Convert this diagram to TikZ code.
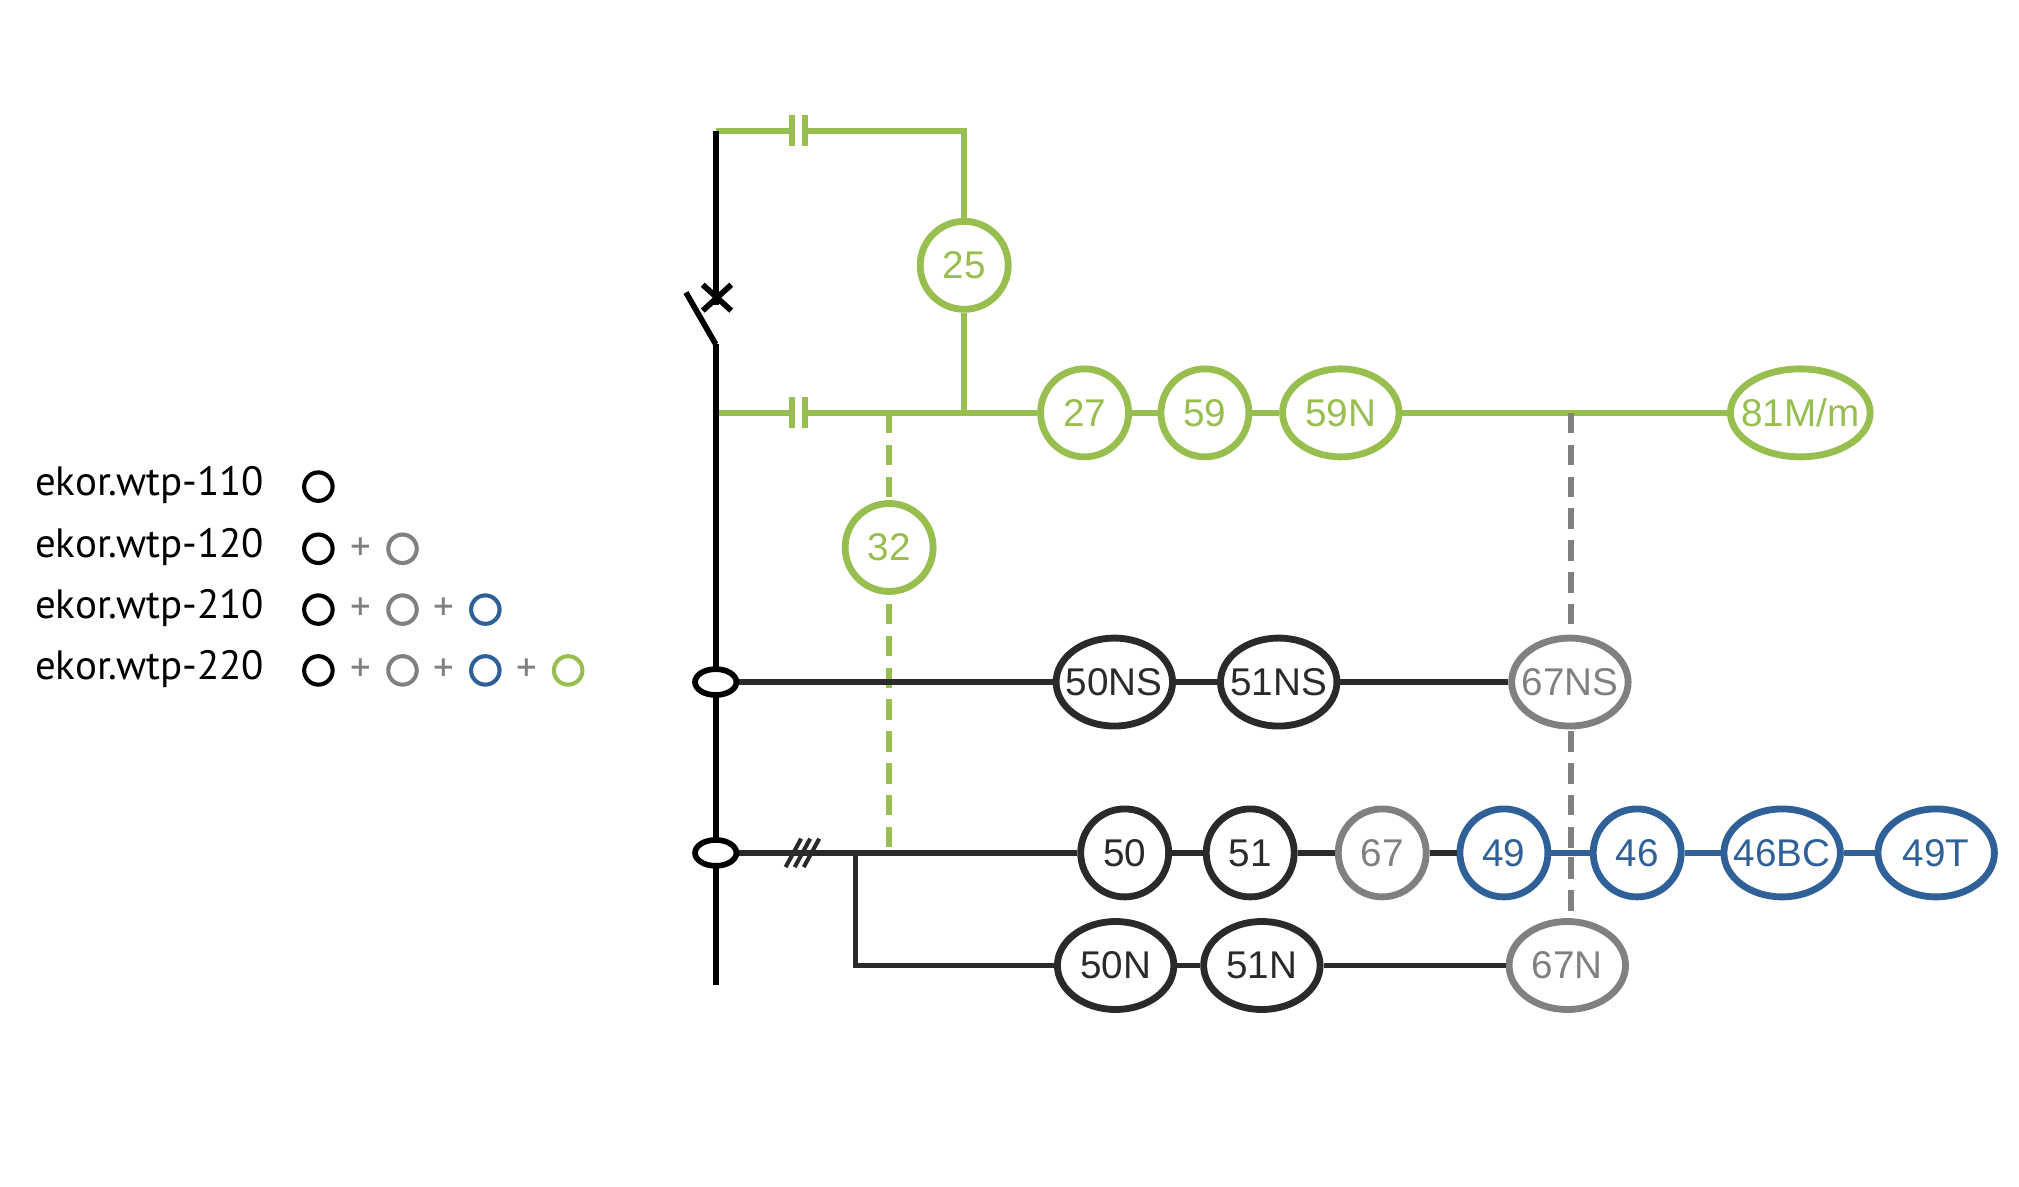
\documentclass[tikz,border=0pt]{standalone}
\usepackage{fontspec}
\setmainfont{PT Sans}
\newfontfamily\nf{Liberation Sans}
\usetikzlibrary{shapes.geometric}
\definecolor{gr}{HTML}{97BE4F}
\definecolor{bl}{HTML}{2F6198}
\definecolor{gy}{HTML}{808080}
\definecolor{bk}{HTML}{2A2A2A}
\newcommand{\zt}[1]{\makebox[0pt]{#1}}
\begin{document}
\begin{tikzpicture}[x=0.02cm,y=-0.02cm,line width=2.5pt,
 r/.style={draw=#1,text=#1,circle,minimum size=1.36cm,inner sep=0pt,line width=3pt,font=\nf\fontsize{17}{17}\selectfont,fill=white},
 e/.style={draw=#1,text=#1,ellipse,minimum width=1.8cm,minimum height=1.36cm,inner sep=0pt,line width=3pt,font=\nf\fontsize{17}{17}\selectfont,fill=white},
 lg/.style={font=\fontsize{18}{18}\selectfont,anchor=west,inner sep=0pt},
 lc/.style={draw=#1,circle,minimum size=0.44cm,inner sep=0pt,line width=1.8pt},
 pl/.style={text=gy,font=\fontsize{18}{18}\selectfont,inner sep=0pt},
 ct/.style={draw=black,ellipse,minimum width=0.64cm,minimum height=0.4cm,inner sep=0pt,fill=white}]
\useasboundingbox (3,2) rectangle (1563,919);
% green network
\coordinate (t0) at (556,103); \coordinate (t1) at (748,103);
\coordinate (m0) at (556,321); \coordinate (m1) at (748,321);
\coordinate (d32) at (690,321); \coordinate (d32b) at (690,661);
\coordinate (d67) at (1217,321);
\node[r=gr] (n25) at (748,207) {25};
\node[r=gr] (n27) at (841,321) {27};
\node[r=gr] (n59) at (934,321) {59};
\node[e=gr] (n59N) at (1039,321) {\zt{59N}};
\node[e=gr,minimum width=2.16cm] (n81) at (1394,321) {\zt{81M/m}};
\draw[gr] (t0) -- (t1) -- (n25) -- (m1);
\draw[gr] (m0) -- (n27) -- (n59) -- (n59N) -- (n81);
\foreach \y in {103,321}{
 \fill[white] (615,\y-12) rectangle (625,\y+12);
 \draw[gr] (615,\y-12) -- (615,\y+12); \draw[gr] (625,\y-12) -- (625,\y+12);}
% black lines
\coordinate (b0) at (556,529); \coordinate (c0) at (556,661);
\coordinate (br) at (664,661); \coordinate (brb) at (664,748);
\draw[gr,dash pattern=on 9pt off 5pt] (d32) -- (d32b);
\node[r=gr] (n32) at (690,425) {32};
\draw[gy,dash pattern=on 9pt off 5pt] (d67) -- (1217,714);
\node[e=bk] (n50NS) at (864,529) {\zt{50NS}};
\node[e=bk] (n51NS) at (991,529) {\zt{51NS}};
\node[e=gy] (n67NS) at (1216,529) {\zt{67NS}};
\node[r=bk] (n50) at (872,661) {50};
\node[r=bk] (n51) at (969,661) {51};
\node[r=gy] (n67) at (1071,661) {67};
\node[r=bl] (n49) at (1165,661) {49};
\node[r=bl] (n46) at (1268,661) {46};
\node[e=bl] (n46BC) at (1380,661) {\zt{46BC}};
\node[e=bl] (n49T) at (1499,661) {\zt{49T}};
\node[e=bk] (n50N) at (865,748) {\zt{50N}};
\node[e=bk] (n51N) at (978,748) {\zt{51N}};
\node[e=gy] (n67N) at (1214,748) {\zt{67N}};
\draw[bk] (b0) -- (n50NS) -- (n51NS) -- (n67NS);
\draw[bk] (c0) -- (n50) -- (n51) -- (n67) -- (n49);
\draw[bl] (n49) -- (n46) -- (n46BC) -- (n49T);
\draw[gy,dash pattern=on 4pt off 4pt] (1217,650) -- (1217,672);
\draw[bk] (br) -- (brb) -- (n50N) -- (n51N) -- (n67N);
% main vertical with breaker
\coordinate (v0) at (556,103); \coordinate (v1) at (556,238);
\coordinate (v2) at (556,268); \coordinate (v3) at (556,763);
\coordinate (sw) at (533,228);
\draw[black] (v0) -- (v1);
\draw[black] (v2) -- (v3);
\draw[black] (v2) -- (sw);
\draw[black] (546,222) -- (568,242) (546,242) -- (568,222);
\node[ct] (ct1) at (556,529) {};
\node[ct] (ct2) at (556,661) {};
\draw[bk,line width=1.8pt] (610,672) -- (622,650) (617,672) -- (629,650) (624,672) -- (636,650);
% legend
\node[lg] (l1) at (28,377) {ekor.wtp-110};
\node[lg] (l2) at (28,425) {ekor.wtp-120};
\node[lg] (l3) at (28,472) {ekor.wtp-210};
\node[lg] (l4) at (28,519) {ekor.wtp-220};
\node[lc=black] (a1) at (249,378) {};
\node[lc=black] (a2) at (249,426) {}; \node[pl] (p21) at (282,426) {+}; \node[lc=gy] (b2) at (314,426) {};
\node[lc=black] (a3) at (249,473) {}; \node[pl] (p31) at (282,473) {+}; \node[lc=gy] (b3) at (314,473) {};
\node[pl] (p32) at (346,473) {+}; \node[lc=bl] (c3) at (378,473) {};
\node[lc=black] (a4) at (249,520) {}; \node[pl] (p41) at (282,520) {+}; \node[lc=gy] (b4) at (314,520) {};
\node[pl] (p42) at (346,520) {+}; \node[lc=bl] (c4) at (378,520) {};
\node[pl] (p43) at (410,520) {+}; \node[lc=gr] (d4) at (442,520) {};
\end{tikzpicture}
\end{document}
